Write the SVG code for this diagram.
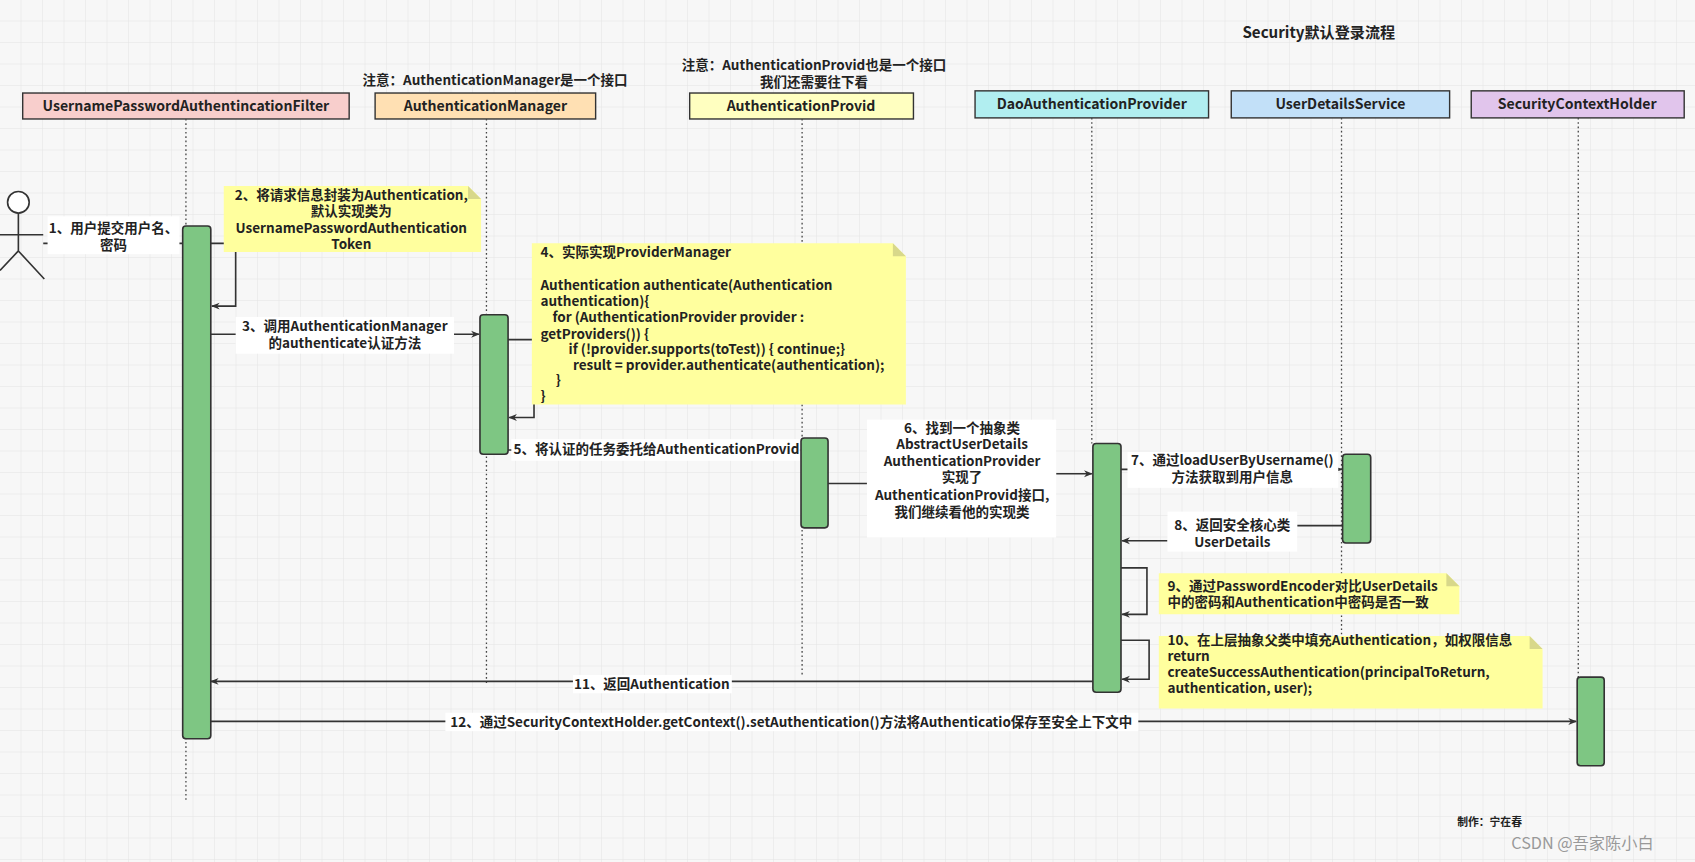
<svg xmlns="http://www.w3.org/2000/svg" width="1695" height="862" viewBox="0 0 1695 862">
<defs>
<pattern id="grid" width="21.5" height="21.5" patternUnits="userSpaceOnUse"><path d="M21.5 0V21.5H0" fill="none" stroke="#e3e3e3" stroke-width="1"/></pattern>
<marker id="ar" viewBox="0 0 10 10" refX="9" refY="5" markerWidth="8" markerHeight="8" orient="auto" markerUnits="userSpaceOnUse"><path d="M0 1L10 5L0 9L3 5Z" fill="#333"/></marker>
<style>
text{font-family:"Noto Sans CJK SC","Liberation Sans",sans-serif;font-size:12.5px;fill:#222;font-weight:600}
.h{font-size:13px;text-anchor:middle}
.c{text-anchor:middle}
.hd{stroke:#333;stroke-width:1.3}
.life{stroke:#444;stroke-width:1.2;stroke-dasharray:1.5 2.5;fill:none}
.act{fill:#7ec683;stroke:#333;stroke-width:1.5}
.ln{stroke:#333;stroke-width:1.5;fill:none}
.lab{fill:#fff}
.note{fill:#ffff9e}
.fold{fill:#d8d88a}
</style>
</defs>
<rect width="1695" height="862" fill="#f7f7f7"/>
<rect width="1695" height="862" fill="url(#grid)"/>
<g transform="scale(1.081,1.0816)">
<text x="1220" y="35" class="h" style="font-size:14px">Security默认登录流程</text>
<text x="458" y="79" class="c">注意：AuthenticationManager是一个接口</text>
<text x="753" y="65" class="c">注意：AuthenticationProvid也是一个接口</text>
<text x="753" y="80" class="c">我们还需要往下看</text>

<g id="filter"><rect class="hd" x="21" y="86" width="302" height="24" fill="#f8cecc"/><text x="172" y="103" class="h">UsernamePasswordAuthentincationFilter</text><path class="life" d="M172 110V742"/><rect class="act" x="169" y="209" width="26" height="474" rx="3"/></g>
<g id="manager"><rect class="hd" x="347" y="86" width="204" height="24" fill="#ffe0b3"/><text x="449" y="103" class="h">AuthenticationManager</text><path class="life" d="M450 110V632"/><rect class="act" x="444" y="291" width="26" height="129" rx="3"/></g>
<g id="provid"><rect class="hd" x="638" y="86" width="207" height="24" fill="#ffffc0"/><text x="741" y="103" class="h">AuthenticationProvid</text><path class="life" d="M742 110V626"/><rect class="act" x="741" y="405" width="25" height="83" rx="3"/></g>
<g id="dao"><rect class="hd" x="902" y="84" width="216" height="25" fill="#b1eef0"/><text x="1010" y="101" class="h">DaoAuthenticationProvider</text><path class="life" d="M1010 109V410"/><rect class="act" x="1011" y="410" width="26" height="230" rx="3"/></g>
<g id="uds"><rect class="hd" x="1139" y="84" width="202" height="25" fill="#c2e0f8"/><text x="1240" y="101" class="h">UserDetailsService</text><path class="life" d="M1241 109V590"/><rect class="act" x="1242" y="420" width="26" height="82" rx="3"/></g>
<g id="sch"><rect class="hd" x="1361" y="84" width="197" height="25" fill="#e1c5ec"/><text x="1459" y="101" class="h">SecurityContextHolder</text><path class="life" d="M1460 109V626"/><rect class="act" x="1459" y="626" width="25" height="82" rx="3"/></g>

<g id="actor" stroke="#333" stroke-width="1.5" fill="none"><circle cx="17" cy="187" r="10" fill="#fff"/><path d="M17 197V232M0 217H40M17 232L0 250M17 232L41 258"/></g>

<g id="connectors">
<path class="ln" d="M40 225H169"/>
<rect class="lab" x="44" y="200" width="122" height="35"/>
<text x="105" y="215" class="c">1、用户提交用户名、</text><text x="105" y="231" class="c">密码</text>
<path class="ln" d="M195 225H218V283H196" marker-end="url(#ar)"/>
<path class="ln" d="M195 309H443" marker-end="url(#ar)"/>
<rect class="lab" x="218" y="293" width="202" height="34"/>
<text x="319" y="306" class="c">3、调用AuthenticationManager</text><text x="319" y="322" class="c">的authenticate认证方法</text>
<path class="ln" d="M470 314H494V386H471" marker-end="url(#ar)"/>
<path class="ln" d="M470 416H740" marker-end="url(#ar)"/>
<rect class="lab" x="473" y="406" width="267" height="20"/>
<text x="475" y="420">5、将认证的任务委托给AuthenticationProvid</text>
<path class="ln" d="M766 447H802"/>
<path class="ln" d="M977 438H1010" marker-end="url(#ar)"/>
<rect class="lab" x="802" y="388" width="175" height="109"/>
<text x="890" y="400" class="c">6、找到一个抽象类</text>
<text x="890" y="415" class="c">AbstractUserDetails</text>
<text x="890" y="431" class="c">AuthenticationProvider</text>
<text x="890" y="446" class="c">实现了</text>
<text x="890" y="462" class="c">AuthenticationProvid接口,</text>
<text x="890" y="478" class="c">我们继续看他的实现类</text>
<path class="ln" d="M1037 434H1241" marker-end="url(#ar)"/>
<rect class="lab" x="1043" y="418" width="195" height="33"/>
<text x="1140" y="430" class="c">7、通过loadUserByUsername()</text><text x="1140" y="446" class="c">方法获取到用户信息</text>
<path class="ln" d="M1242 486H1200"/>
<path class="ln" d="M1080 500H1038" marker-end="url(#ar)"/>
<rect class="lab" x="1080" y="473" width="120" height="37"/>
<text x="1140" y="490" class="c">8、返回安全核心类</text><text x="1140" y="506" class="c">UserDetails</text>
<path class="ln" d="M1037 525H1061V568H1038" marker-end="url(#ar)"/>
<path class="ln" d="M1037 592H1063V628H1038" marker-end="url(#ar)"/>
<path class="ln" d="M1011 630H195" marker-end="url(#ar)" transform="translate(0,0)"/>
<rect class="lab" x="530" y="624" width="147" height="17"/>
<text x="603" y="637" class="c">11、返回Authentication</text>
<path class="ln" d="M195 667H1458" marker-end="url(#ar)"/>
<rect class="lab" x="412" y="659" width="641" height="17"/>
<text x="732" y="672" class="c">12、通过SecurityContextHolder.getContext().setAuthentication()方法将Authenticatio保存至安全上下文中</text>
</g>

<g id="note2"><path class="note" d="M207 172H433L445 184V233H207Z"/><path class="fold" d="M433 172L445 184H433Z"/>
<text x="325" y="185" class="c">2、将请求信息封装为Authentication,</text><text x="325" y="200" class="c">默认实现类为</text><text x="325" y="215" class="c">UsernamePasswordAuthentication</text><text x="325" y="230" class="c">Token</text></g>
<g id="note4"><path class="note" d="M492 225H826L838 237V374H492Z"/><path class="fold" d="M826 225L838 237H826Z"/>
<text x="500" y="238">4、实际实现ProviderManager</text>
<text x="500" y="268">Authentication authenticate(Authentication</text>
<text x="500" y="283">authentication){</text>
<text x="511" y="298">for (AuthenticationProvider provider :</text>
<text x="500" y="313">getProviders()) {</text>
<text x="526" y="327">if (!provider.supports(toTest)) { continue;}</text>
<text x="530" y="342">result = provider.authenticate(authentication);</text>
<text x="514" y="356">}</text>
<text x="500" y="371">}</text></g>
<g id="note9"><path class="note" d="M1072 530H1338L1350 542V568H1072Z"/><path class="fold" d="M1338 530L1350 542H1338Z"/>
<text x="1080" y="546">9、通过PasswordEncoder对比UserDetails</text><text x="1080" y="561">中的密码和Authentication中密码是否一致</text></g>
<g id="note10"><path class="note" d="M1072 588H1415L1427 600V655H1072Z"/><path class="fold" d="M1415 588L1427 600H1415Z"/>
<text x="1080" y="596">10、在上层抽象父类中填充Authentication，如权限信息</text><text x="1080" y="611">return</text><text x="1080" y="626">createSuccessAuthentication(principalToReturn,</text><text x="1080" y="641">authentication, user);</text></g>

<text x="1348" y="764" style="font-size:10px">制作：宁在春</text>
<text x="1398" y="785" style="font-size:15px;fill:#999;font-weight:400">CSDN @吾家陈小白</text>
</g>
</svg>
